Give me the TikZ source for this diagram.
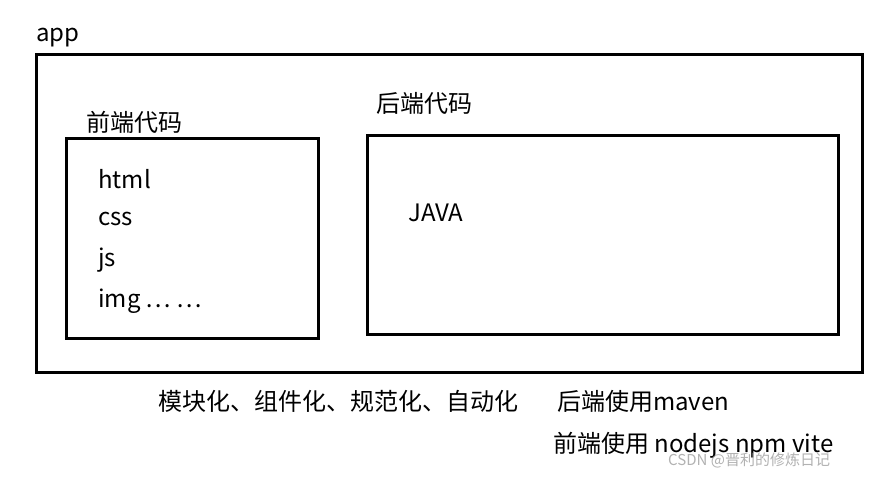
\documentclass[tikz,border=0pt]{standalone}
\usepackage{fontspec}
\setmainfont{Noto Sans CJK SC}
\begin{document}
\begin{tikzpicture}[x=1pt,y=-1pt,
  box/.style={draw,line width=3pt},
  txt/.style={anchor=west,inner sep=0pt,font=\fontsize{24}{27}\selectfont}]
  \useasboundingbox[fill=white] (0,0) rectangle (893,476);
  % boxes
  \draw[box] (36,55) rectangle (862,372);
  \draw[box] (66,138) rectangle (318,338);
  \draw[box] (367,135) rectangle (838,334);
  % labels
  \node[txt] (app) at (36,38) {app};
  \node[txt] (front) at (86,122) {前端代码};
  \node[txt] (back) at (376,103) {后端代码};
  \node[txt] (html) at (98,179) {html};
  \node[txt] (css) at (98,219) {css};
  \node[txt] (js) at (98,260) {js};
  \node[txt] (img) at (98,301) {img …  …};
  \node[txt] (java) at (408,213) {JAVA};
  \node[txt] (mod) at (158,401) {模块化、组件化、规范化、自动化};
  \node[txt] (maven) at (557,401) {后端使用maven};
  \node[txt] (node) at (553,445) {前端使用 nodejs npm vite};
  \node[anchor=west,inner sep=0pt,text=gray!60,font=\fontsize{15}{17}\selectfont] (mark) at (668,460) {CSDN @晋利的修炼日记};
\end{tikzpicture}
\end{document}
